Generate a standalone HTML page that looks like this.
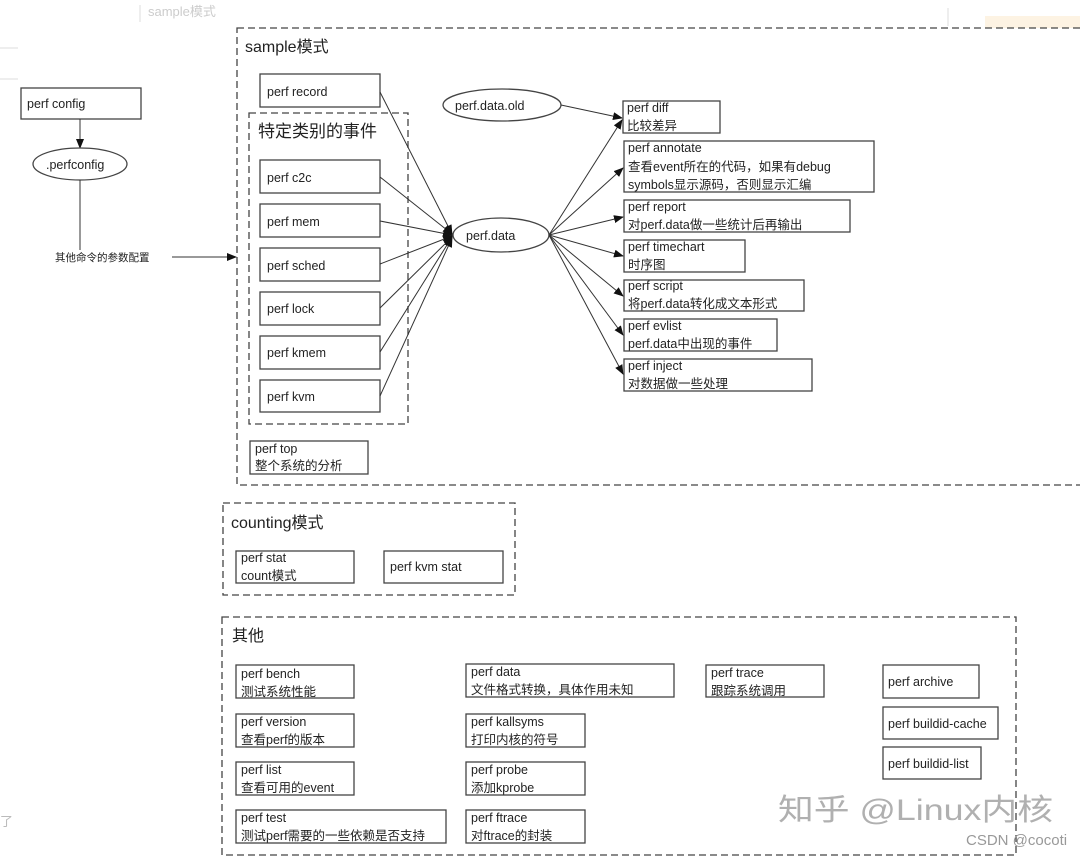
<!DOCTYPE html>
<html><head><meta charset="utf-8"><style>
html,body{margin:0;padding:0;background:#fff;}
svg{display:block}
text{font-family:"Liberation Sans","Noto Sans CJK SC",sans-serif;fill:#222;}
.b{fill:#fff;stroke:#444;stroke-width:1.3}
.d{fill:none;stroke:#444;stroke-width:1.3;stroke-dasharray:7,4}
.l{stroke:#333;stroke-width:1;fill:none}
.t{font-size:12.5px}
</style></head><body>
<svg width="1080" height="857" viewBox="0 0 1080 857">
<defs><marker id="a" markerWidth="10" markerHeight="8" refX="9" refY="4" orient="auto" markerUnits="userSpaceOnUse"><path d="M0,0 L10,4 L0,8 z" fill="#111"/></marker></defs>
<text x="148" y="16" font-size="13" style="fill:#ccc">sample模式</text>
<line x1="140" y1="5" x2="140" y2="22" stroke="#ddd"/>
<line x1="948" y1="8" x2="948" y2="26" stroke="#ddd"/>
<rect x="985" y="16" width="95" height="12" fill="#fdf3e3"/>
<line x1="0" y1="48" x2="18" y2="48" stroke="#ddd"/>
<line x1="0" y1="79" x2="18" y2="79" stroke="#ddd"/>
<rect class="d" x="237" y="28" width="860" height="457"/>
<text x="245" y="52" font-size="16">sample模式</text>
<rect class="b" x="260" y="74" width="120" height="33"/><text class="t" x="267" y="96">perf record</text>
<rect class="d" x="249" y="113" width="159" height="311"/>
<text x="258" y="137" font-size="17">特定类别的事件</text>
<rect class="b" x="260" y="160" width="120" height="33"/><text class="t" x="267" y="182">perf c2c</text>
<rect class="b" x="260" y="204" width="120" height="33"/><text class="t" x="267" y="226">perf mem</text>
<rect class="b" x="260" y="248" width="120" height="33"/><text class="t" x="267" y="270">perf sched</text>
<rect class="b" x="260" y="292" width="120" height="33"/><text class="t" x="267" y="313">perf lock</text>
<rect class="b" x="260" y="336" width="120" height="33"/><text class="t" x="267" y="357">perf kmem</text>
<rect class="b" x="260" y="380" width="120" height="32"/><text class="t" x="267" y="401">perf kvm</text>
<rect class="b" x="250" y="441" width="118" height="33"/><text class="t" x="255" y="453">perf top</text><text class="t" x="255" y="470">整个系统的分析</text>
<rect class="b" x="21" y="88" width="120" height="31"/><text class="t" x="27" y="108">perf config</text>
<line class="l" x1="80" y1="119" x2="80" y2="148" marker-end="url(#a)"/>
<ellipse class="b" cx="80" cy="164" rx="47" ry="16"/><text class="t" x="46" y="169">.perfconfig</text>
<line class="l" x1="80" y1="180" x2="80" y2="250"/>
<text x="55" y="261" font-size="10.5">其他命令的参数配置</text>
<line class="l" x1="172" y1="257" x2="236" y2="257" marker-end="url(#a)"/>
<ellipse class="b" cx="501" cy="235" rx="48" ry="17"/><text class="t" x="466" y="240">perf.data</text>
<ellipse class="b" cx="502" cy="105" rx="59" ry="16"/><text class="t" x="455" y="110">perf.data.old</text>
<g class="l">
<line x1="380" y1="92" x2="452" y2="234" marker-end="url(#a)"/>
<line x1="380" y1="177" x2="452" y2="234" marker-end="url(#a)"/>
<line x1="380" y1="221" x2="452" y2="235" marker-end="url(#a)"/>
<line x1="380" y1="264" x2="452" y2="236" marker-end="url(#a)"/>
<line x1="380" y1="308" x2="452" y2="237" marker-end="url(#a)"/>
<line x1="380" y1="352" x2="452" y2="237" marker-end="url(#a)"/>
<line x1="380" y1="396" x2="452" y2="238" marker-end="url(#a)"/>
<line x1="561" y1="105" x2="622" y2="118" marker-end="url(#a)"/>
<line x1="549" y1="235" x2="622" y2="120" marker-end="url(#a)"/>
<line x1="549" y1="235" x2="623" y2="168" marker-end="url(#a)"/>
<line x1="549" y1="235" x2="623" y2="217" marker-end="url(#a)"/>
<line x1="549" y1="235" x2="623" y2="256" marker-end="url(#a)"/>
<line x1="549" y1="235" x2="623" y2="296" marker-end="url(#a)"/>
<line x1="549" y1="235" x2="623" y2="335" marker-end="url(#a)"/>
<line x1="549" y1="235" x2="623" y2="374" marker-end="url(#a)"/>
</g>
<rect class="b" x="623" y="101" width="97" height="32"/><text class="t" x="627" y="112">perf diff</text><text class="t" x="627" y="130">比较差异</text>
<rect class="b" x="624" y="141" width="250" height="51"/><text class="t" x="628" y="152">perf annotate</text><text class="t" x="628" y="171">查看event所在的代码，如果有debug</text><text class="t" x="628" y="189">symbols显示源码，否则显示汇编</text>
<rect class="b" x="624" y="200" width="226" height="32"/><text class="t" x="628" y="211">perf report</text><text class="t" x="628" y="229">对perf.data做一些统计后再输出</text>
<rect class="b" x="624" y="240" width="121" height="32"/><text class="t" x="628" y="251">perf timechart</text><text class="t" x="628" y="269">时序图</text>
<rect class="b" x="624" y="280" width="180" height="31"/><text class="t" x="628" y="290">perf script</text><text class="t" x="628" y="308">将perf.data转化成文本形式</text>
<rect class="b" x="624" y="319" width="153" height="32"/><text class="t" x="628" y="330">perf evlist</text><text class="t" x="628" y="348">perf.data中出现的事件</text>
<rect class="b" x="624" y="359" width="188" height="32"/><text class="t" x="628" y="370">perf inject</text><text class="t" x="628" y="388">对数据做一些处理</text>
<rect class="d" x="223" y="503" width="292" height="92"/>
<text x="231" y="528" font-size="16">counting模式</text>
<rect class="b" x="236" y="551" width="118" height="32"/><text class="t" x="241" y="562">perf stat</text><text class="t" x="241" y="580">count模式</text>
<rect class="b" x="384" y="551" width="119" height="32"/><text class="t" x="390" y="571">perf kvm stat</text>
<rect class="d" x="222" y="617" width="794" height="238"/>
<text x="232" y="641" font-size="16">其他</text>
<rect class="b" x="236" y="665" width="118" height="33"/><text class="t" x="241" y="678">perf bench</text><text class="t" x="241" y="696">测试系统性能</text>
<rect class="b" x="236" y="714" width="118" height="33"/><text class="t" x="241" y="726">perf version</text><text class="t" x="241" y="744">查看perf的版本</text>
<rect class="b" x="236" y="762" width="118" height="33"/><text class="t" x="241" y="774">perf list</text><text class="t" x="241" y="792">查看可用的event</text>
<rect class="b" x="236" y="810" width="210" height="33"/><text class="t" x="241" y="822">perf test</text><text class="t" x="241" y="840">测试perf需要的一些依赖是否支持</text>
<rect class="b" x="466" y="664" width="208" height="33"/><text class="t" x="471" y="676">perf data</text><text class="t" x="471" y="694">文件格式转换，具体作用未知</text>
<rect class="b" x="466" y="714" width="119" height="33"/><text class="t" x="471" y="726">perf kallsyms</text><text class="t" x="471" y="744">打印内核的符号</text>
<rect class="b" x="466" y="762" width="119" height="33"/><text class="t" x="471" y="774">perf probe</text><text class="t" x="471" y="792">添加kprobe</text>
<rect class="b" x="466" y="810" width="119" height="33"/><text class="t" x="471" y="822">perf ftrace</text><text class="t" x="471" y="840">对ftrace的封装</text>
<rect class="b" x="706" y="665" width="118" height="32"/><text class="t" x="711" y="677">perf trace</text><text class="t" x="711" y="695">跟踪系统调用</text>
<rect class="b" x="883" y="665" width="96" height="33"/><text class="t" x="888" y="686">perf archive</text>
<rect class="b" x="883" y="707" width="115" height="32"/><text class="t" x="888" y="728">perf buildid-cache</text>
<rect class="b" x="883" y="747" width="98" height="32"/><text class="t" x="888" y="768">perf buildid-list</text>
<text x="778" y="820" font-size="30" textLength="275" lengthAdjust="spacingAndGlyphs" style="fill:#b0b0b0">知乎 @Linux内核</text>
<text x="966" y="845" font-size="15" style="fill:#999">CSDN @cocoti</text>
<text x="0" y="826" font-size="13" style="fill:#bbb">了</text>
</svg>
</body></html>
